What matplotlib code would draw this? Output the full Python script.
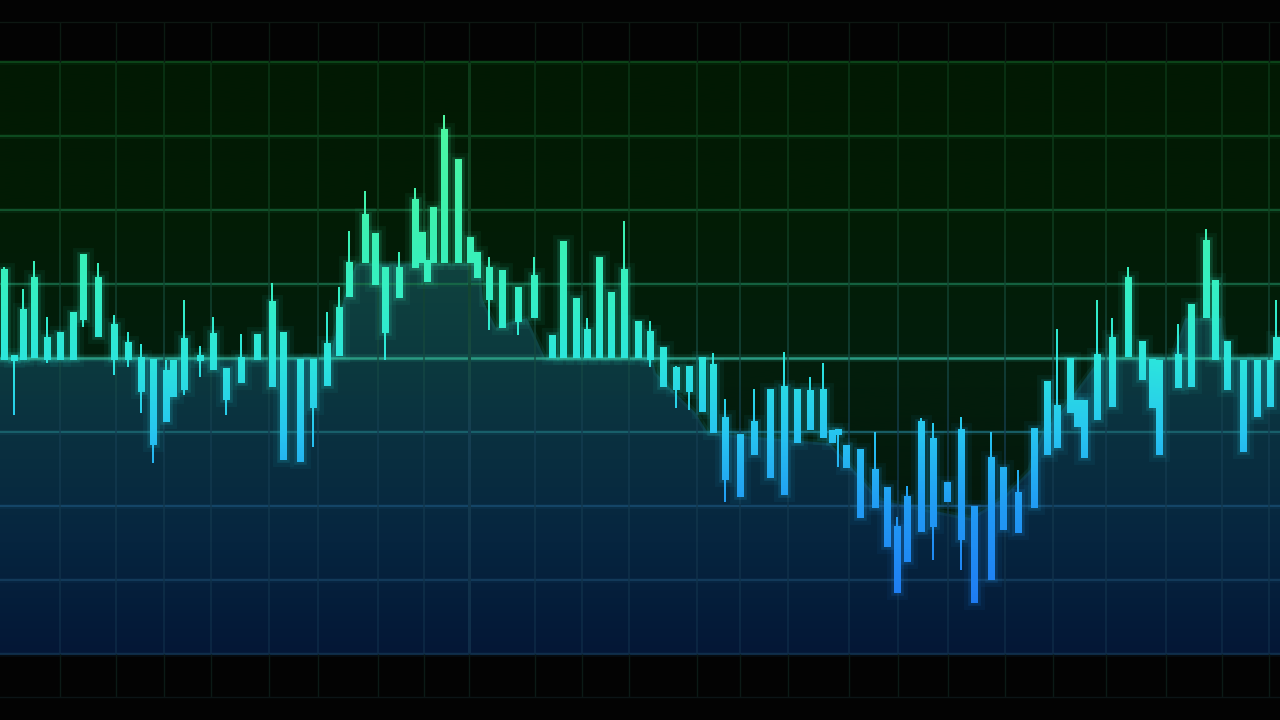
import numpy as np
import matplotlib
matplotlib.use("Agg")
import matplotlib.pyplot as plt
from matplotlib.colors import LinearSegmentedColormap

# candle positions along the time axis
t = [4, 14, 23, 34, 47, 60, 73, 83, 98, 114,
     128, 141, 153, 166, 173, 184, 200, 213, 226, 241,
     257, 272, 283, 300, 313, 327, 339, 349, 365, 375,
     385, 399, 415, 422, 427, 433, 444, 458, 470, 477,
     489, 502, 518, 534, 552, 563, 576, 587, 599, 611,
     624, 638, 650, 663, 676, 689, 702, 713, 725, 740,
     754, 770, 784, 797, 810, 823, 832, 838, 846, 860,
     875, 887, 897, 907, 921, 933, 947, 961, 974, 991,
     1003, 1018, 1034, 1047, 1057, 1070, 1077, 1084, 1097, 1112,
     1128, 1142, 1152, 1159, 1178, 1191, 1206, 1215, 1227, 1243,
     1257, 1270, 1276]

open_ = [99.7, 100.4, 99.7, 100.0, 99.7, 99.7, 99.7, 105.1, 102.8, 99.7,
         99.7, 100.1, 99.7, 98.4, 99.7, 102.7, 100.4, 98.4, 98.6, 100.1,
         99.7, 96.1, 103.4, 99.7, 99.7, 96.2, 100.3, 108.2, 112.8, 109.9,
         103.4, 108.1, 112.2, 112.8, 110.3, 112.8, 112.8, 112.8, 112.8, 110.8,
         107.8, 104.1, 104.9, 105.4, 100.0, 100.0, 100.0, 100.0, 100.0, 100.0,
         100.0, 100.0, 99.7, 101.4, 98.8, 98.8, 100.0, 99.1, 92.0, 89.6,
         86.9, 83.8, 81.5, 88.5, 90.3, 89.2, 90.3, 90.3, 88.2, 87.6,
         79.7, 82.6, 77.2, 72.4, 76.5, 89.2, 83.1, 75.4, 79.9, 86.5,
         85.3, 76.4, 79.7, 86.9, 87.8, 92.6, 94.3, 94.3, 91.6, 93.4,
         100.1, 102.2, 99.7, 99.7, 95.9, 96.1, 105.4, 110.5, 102.2, 99.7,
         99.7, 99.7, 99.7]

close = [111.9, 99.6, 106.5, 110.9, 102.8, 103.4, 106.1, 113.9, 110.8, 104.5,
         102.0, 95.4, 88.2, 91.4, 94.7, 95.7, 99.6, 103.4, 94.3, 96.6,
         103.2, 107.6, 86.2, 85.9, 93.2, 102.0, 106.9, 112.8, 119.3, 116.9,
         112.2, 112.2, 121.4, 116.9, 113.2, 120.3, 130.8, 126.8, 116.2, 114.2,
         112.2, 111.9, 109.5, 111.2, 103.1, 115.7, 108.1, 103.8, 113.6, 108.9,
         111.9, 104.9, 103.5, 96.1, 95.7, 95.4, 92.7, 89.9, 83.5, 81.2,
         91.4, 95.7, 96.1, 95.7, 95.7, 95.7, 88.6, 89.6, 85.1, 78.4,
         84.9, 74.5, 68.2, 81.2, 91.4, 77.2, 80.5, 90.3, 66.9, 70.0,
         76.8, 81.9, 90.5, 96.8, 93.6, 99.9, 90.7, 86.5, 100.4, 102.8,
         110.8, 97.0, 93.2, 86.9, 100.4, 107.2, 115.9, 99.7, 95.7, 87.3,
         92.0, 93.4, 102.7]

high = [112.2, 100.4, 109.2, 113.0, 105.4, 103.4, 106.1, 113.9, 112.8, 105.8,
        103.5, 101.8, 99.7, 99.7, 99.7, 107.8, 101.5, 105.5, 98.6, 103.1,
        103.2, 110.1, 103.4, 99.7, 99.7, 106.1, 109.5, 117.0, 122.4, 116.9,
        112.2, 114.2, 123.0, 116.9, 113.2, 120.3, 132.7, 126.8, 116.2, 114.2,
        113.6, 111.9, 109.5, 113.6, 103.1, 115.7, 108.1, 105.4, 113.6, 108.9,
        118.4, 104.9, 104.9, 101.4, 98.8, 98.8, 100.0, 100.7, 94.3, 89.6,
        95.7, 95.7, 100.8, 95.7, 97.4, 99.3, 90.3, 90.3, 88.2, 87.6,
        89.9, 82.6, 78.4, 82.6, 91.9, 91.2, 83.1, 92.0, 79.9, 89.9,
        85.3, 84.9, 90.5, 96.8, 103.8, 99.9, 94.3, 94.3, 107.8, 105.4,
        112.2, 102.2, 99.7, 99.7, 104.5, 107.2, 117.3, 110.5, 102.2, 99.7,
        99.7, 99.7, 107.8]

low = [99.7, 92.3, 99.7, 100.0, 99.3, 99.7, 99.7, 104.2, 102.8, 97.7,
       98.8, 92.6, 85.8, 91.4, 94.7, 95.0, 97.4, 98.4, 92.3, 96.6,
       99.7, 96.1, 86.2, 85.9, 88.0, 96.2, 100.3, 108.2, 112.8, 109.9,
       99.7, 108.1, 112.2, 112.8, 110.3, 112.8, 112.8, 112.8, 112.8, 110.8,
       103.8, 104.1, 103.1, 105.4, 100.0, 100.0, 100.0, 100.0, 100.0, 100.0,
       100.0, 100.0, 98.8, 96.1, 93.2, 93.0, 92.7, 89.9, 80.5, 81.2,
       86.9, 83.8, 81.5, 88.5, 90.3, 89.2, 88.6, 85.3, 85.1, 78.4,
       79.7, 74.5, 68.2, 72.4, 76.5, 72.7, 80.5, 71.4, 66.9, 70.0,
       76.8, 76.4, 79.7, 86.9, 87.8, 92.6, 90.7, 86.5, 91.6, 93.4,
       100.1, 97.0, 93.2, 86.9, 95.9, 96.1, 105.4, 99.7, 95.7, 87.3,
       92.0, 93.4, 99.7]

# top edge of the shaded area under the candles
fill_t = [0, 330, 336, 344, 356, 480, 483, 496, 510, 527,
          545, 652, 656, 670, 695, 708, 830, 850, 880, 970,
          1000, 1030, 1042, 1060, 1100, 1172, 1185, 1222, 1226, 1280]
fill_lvl = [100.0, 100.0, 103.8, 108.2, 112.8, 112.8, 107.8, 104.1, 104.9, 105.4,
            100.0, 100.0, 98.0, 96.0, 92.7, 89.9, 88.5, 85.5, 80.8, 78.4,
            80.8, 84.9, 89.9, 92.6, 100.0, 100.0, 105.4, 105.4, 100.0, 100.0]

grid_y = [60, 70, 80, 90, 100, 110, 120, 130, 140]
grid_x = [60, 116, 164, 211, 269, 318, 378, 424, 469, 535, 582, 629,
          697, 740, 788, 849, 898, 948, 1005, 1053, 1106, 1166, 1222, 1269]

LO, HI = 60, 140


def ramp(stops):
    return LinearSegmentedColormap.from_list(
        "", [((p - LO) / (HI - LO), c) for p, c in stops])


def norm(v):
    return np.clip((np.asarray(v, float) - LO) / (HI - LO), 0, 1)


candle_cm = ramp([(60, '#1c6cf2'), (68, '#1f7ef4'), (80, '#219cf4'), (90, '#27c6f0'),
                  (100, '#2ce6dc'), (107, '#33eec8'), (118, '#3cf2b0'), (140, '#55fa98')])
bg_cm = ramp([(60, '#03140e'), (100, '#031e0c'), (120, '#021c05'), (140, '#021903')])
fill_cm = ramp([(60, '#041736'), (75, '#06253f'), (90, '#0a3140'), (100, '#0c3a3e'),
                (115, '#10443f'), (140, '#12483f')])
hgrid_cm = ramp([(60, '#12324f'), (80, '#174a6e'), (90, '#1b6672'), (100, '#2a9a82'),
                 (110, '#186c48'), (125, '#115528'), (140, '#0d4c1c')])
vgrid_cm = ramp([(60, '#0f2c48'), (90, '#153f52'), (100, '#164a42'), (120, '#10401f'),
                 (140, '#0c3a18')])

fig = plt.figure(figsize=(12.8, 7.2), dpi=100)
fig.patch.set_facecolor('#030303')
ax = fig.add_axes([0, 0, 1, 1])
ax.set_facecolor('#030303')


def vstrip(cmap, x0, x1, y0, y1, z, alpha=1.0, clip=None):
    ys = np.linspace(y0, y1, 256)
    img = cmap(norm(ys))[:, None, :]
    im = ax.imshow(img, extent=(x0, x1, y0, y1), origin='lower', aspect='auto',
                   interpolation='bilinear', zorder=z, alpha=alpha)
    if clip is not None:
        im.set_clip_path(*clip)
    return im


# plot area background and shaded area
vstrip(bg_cm, 0, 1280, LO, HI, 0)
area = ax.fill_between(fill_t, fill_lvl, LO, color='none', lw=0)
vstrip(fill_cm, 0, 1280, LO, HI, 1, clip=(area.get_paths()[0], ax.transData))
# soft edge along the top of the shaded area
ax.plot(fill_t, fill_lvl, color='#1a6a62', lw=4, alpha=0.18, zorder=1.5)

# grid
for gy in grid_y:
    lw = 1.8 if gy == 100 else 1.2
    ax.axhline(gy, color=hgrid_cm(norm(gy)), lw=lw * 3, alpha=0.18, zorder=2)
    ax.axhline(gy, color=hgrid_cm(norm(gy)), lw=lw, zorder=2)
for gx in grid_x:
    w = 1.3 if gx == 469 else 0.8
    a = 1.0 if gx == 469 else 0.7
    vstrip(vgrid_cm, gx - w, gx + w, LO, HI, 2, alpha=a)
ax.vlines(grid_x, [54.2] * len(grid_x), [LO] * len(grid_x), color='#0b1a16', lw=1, zorder=2)
ax.vlines(grid_x, [HI] * len(grid_x), [145.4] * len(grid_x), color='#0b1a12', lw=1, zorder=2)
ax.axhline(145.4, color='#0d1712', lw=1, zorder=2)
ax.axhline(54.2, color='#0b1416', lw=1, zorder=2)

# candles
o = np.array(open_)
c = np.array(close)
h = np.array(high)
l = np.array(low)
b_lo = np.minimum(o, c)
b_hi = np.maximum(o, c)
cols = candle_cm(norm((b_lo + b_hi) / 2))

# glow
ax.bar(t, b_hi - b_lo, bottom=b_lo, width=7, color=cols, edgecolor=cols,
       lw=10, alpha=0.06, zorder=3)
ax.bar(t, b_hi - b_lo, bottom=b_lo, width=7, color=cols, edgecolor=cols,
       lw=4, alpha=0.14, zorder=3)
wicks = ax.bar(t, h - l, bottom=l, width=1.8, color=cols, lw=0, zorder=4)
bodies = ax.bar(t, b_hi - b_lo, bottom=b_lo, width=6.8, color=cols, lw=0, zorder=5)
for p in list(wicks.patches) + list(bodies.patches):
    x0, y0 = p.get_x(), p.get_y()
    vstrip(candle_cm, x0, x0 + p.get_width(), y0, y0 + p.get_height(), p.get_zorder() + 0.5)

ax.set_xlim(0, 1280)
ax.set_ylim(51.1, 148.4)
ax.axis('off')

fig.savefig('out.png', dpi=100, facecolor=fig.get_facecolor())
